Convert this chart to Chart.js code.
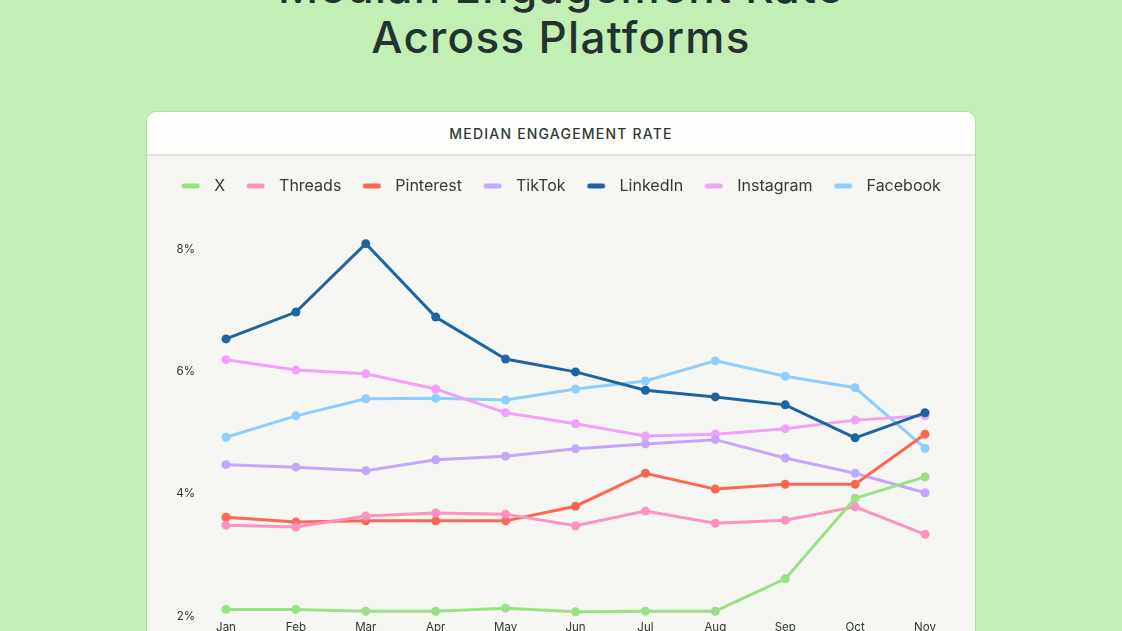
<!DOCTYPE html>
<html>
<head>
<meta charset="utf-8">
<script src="https://cdn.jsdelivr.net/npm/chart.js@4.4.1/dist/chart.umd.min.js"></script>
<style>
  html, body { margin: 0; padding: 0; }
  body { width: 1122px; height: 631px; overflow: hidden; background: #c3efb4; position: relative; font-family: Inter, "Noto Sans", sans-serif; }
  .title { position: absolute; left: 0; width: 1122px; top: -38px; text-align: center; color: #253330; font-family: Inter, sans-serif; font-weight: 500; font-size: 44px; line-height: 50px; letter-spacing: 1.3px; }
  .card { position: absolute; left: 147px; top: 112px; width: 828px; height: 620px; background: #f6f7f2; border-radius: 9px; overflow: hidden; box-shadow: 0 0 0 1px rgba(160,200,150,0.4); }
  .card-head { height: 42px; background: #fefefc; border-bottom: 2px solid #e3e4de; text-align: center; font-size: 14px; font-weight: 500; letter-spacing: 1.2px; color: #2f3a36; line-height: 43px; }
  .wrap { position: absolute; left: 0; top: 44px; width: 828px; height: 498px; }
</style>
</head>
<body>
<div class="title">Median Engagement Rate<br>Across Platforms</div>
<div class="card">
  <div class="card-head">MEDIAN ENGAGEMENT RATE</div>
  <div class="wrap"><canvas id="c" width="828" height="498"></canvas></div>
</div>
<script>
const months = ["Jan","Feb","Mar","Apr","May","Jun","Jul","Aug","Sep","Oct","Nov"];
const seriesNames = ["X","Threads","Pinterest","TikTok","LinkedIn","Instagram","Facebook"];
const seriesColors = ["#98e283","#ff92c2","#ff6652","#c4a6ff","#1e64a1","#f1a2f7","#8fcdff"];
const xValues =         [2.11,2.11,2.08,2.08,2.13,2.07,2.08,2.08,2.61,3.93,4.28];
const threadsValues =   [3.49,3.46,3.64,3.69,3.67,3.48,3.72,3.52,3.57,3.79,3.34];
const pinterestValues = [3.62,3.54,3.56,3.56,3.56,3.80,4.34,4.08,4.16,4.16,4.98];
const tiktokValues =    [4.48,4.44,4.38,4.56,4.62,4.74,4.82,4.89,4.59,4.34,4.02];
const linkedinValues =  [6.54,6.98,8.10,6.90,6.21,6.00,5.70,5.59,5.46,4.92,5.33];
const instagramValues = [6.20,6.03,5.97,5.72,5.33,5.15,4.95,4.98,5.07,5.21,5.28];
const facebookValues =  [4.93,5.28,5.56,5.57,5.54,5.72,5.85,6.18,5.93,5.74,4.75];
const yTicks = [2,4,6,8];

const allValues = [xValues,threadsValues,pinterestValues,tiktokValues,linkedinValues,instagramValues,facebookValues];

function pill(color){
  const cv = document.createElement('canvas');
  cv.width = 25; cv.height = 6;
  const g = cv.getContext('2d');
  g.strokeStyle = color; g.lineWidth = 5; g.lineCap = 'round';
  g.beginPath(); g.moveTo(3,3); g.lineTo(16,3); g.stroke();
  return cv;
}

const datasets = seriesNames.map((n,i)=>({
  label: n,
  data: allValues[i],
  borderColor: seriesColors[i],
  backgroundColor: seriesColors[i],
  borderWidth: 3,
  pointRadius: 4.5,
  pointHoverRadius: 4.5,
  pointBorderWidth: 0,
  tension: 0,
  clip: false
}));

new Chart(document.getElementById('c'), {
  type: 'line',
  data: { labels: months, datasets },
  options: {
    responsive: false,
    animation: false,
    layout: { padding: { left: 0, right: 0, top: 1, bottom: 0 } },
    plugins: {
      tooltip: { enabled: false },
      legend: {
        position: 'top',
        labels: {
          usePointStyle: true,
          pointStyleWidth: 25,
          padding: 21,
          color: '#333a37',
          font: { family: 'Inter', size: 16 },
          generateLabels(chart){
            return chart.data.datasets.map((d,i)=>({
              text: d.label,
              fillStyle: d.borderColor,
              strokeStyle: d.borderColor,
              lineWidth: 0,
              pointStyle: pill(d.borderColor),
              fontColor: '#333a37',
              hidden: false,
              datasetIndex: i
            }));
          }
        }
      }
    },
    scales: {
      x: {
        offset: false,
        grid: { display: false, drawTicks: false },
        border: { display: false },
        ticks: { color: '#2f3633', font: { family: 'Inter', size: 11.5 }, padding: 5, maxRotation: 0, autoSkip: false }
      },
      y: {
        min: 2, max: 8.75,
        grid: { display: false, drawTicks: false },
        border: { display: false },
        afterBuildTicks(scale){ scale.ticks = yTicks.map(v=>({value:v})); },
        afterFit(scale){ scale.width = 79; },
        ticks: { color: '#2f3633', font: { family: 'Inter', size: 11.5 }, padding: 31, callback: v => v + '%' }
      },
      yRight: {
        position: 'right',
        min: 2, max: 8.75,
        grid: { display: false, drawTicks: false },
        border: { display: false },
        ticks: { display: false },
        afterFit(scale){ scale.width = 50; }
      }
    }
  }
});
</script>
</body>
</html>
